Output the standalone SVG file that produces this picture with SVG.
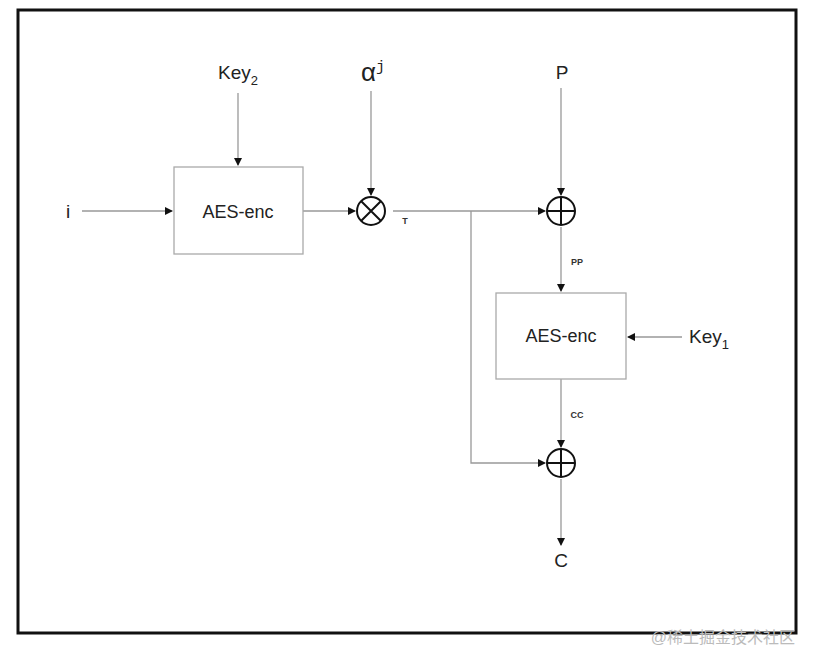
<svg xmlns="http://www.w3.org/2000/svg" width="815" height="666" viewBox="0 0 815 666">
<style>
.t{font-family:"Liberation Sans",Arial,sans-serif;fill:#222}
.s{font-family:"Liberation Sans",Arial,sans-serif;fill:#333;font-weight:bold}
.l{stroke:#999;stroke-width:1.3;fill:none}
.b{fill:#fff;stroke:#aaa;stroke-width:1.3}
.c{fill:#fff;stroke:#111;stroke-width:2}
</style>
<defs><marker id="a" markerWidth="8" markerHeight="8" refX="7" refY="4" orient="auto" markerUnits="userSpaceOnUse"><path d="M0,0L8,4L0,8z" fill="#111"/></marker></defs>
<rect width="815" height="666" fill="#fff"/>
<rect x="18" y="10" width="778" height="623" fill="none" stroke="#111" stroke-width="3"/>
<g id="connectors">
<line class="l" x1="82" y1="211" x2="172" y2="211" marker-end="url(#a)"/>
<line class="l" x1="238" y1="93" x2="238" y2="165" marker-end="url(#a)"/>
<line class="l" x1="303" y1="211" x2="355" y2="211" marker-end="url(#a)"/>
<line class="l" x1="371" y1="91" x2="371" y2="195" marker-end="url(#a)"/>
<line class="l" x1="393" y1="211" x2="545" y2="211" marker-end="url(#a)"/>
<line class="l" x1="561" y1="88" x2="561" y2="195" marker-end="url(#a)"/>
<line class="l" x1="561" y1="227" x2="561" y2="291" marker-end="url(#a)"/>
<line class="l" x1="682" y1="337" x2="628" y2="337" marker-end="url(#a)"/>
<line class="l" x1="561" y1="379" x2="561" y2="447" marker-end="url(#a)"/>
<polyline class="l" points="471,211 471,463 545,463" marker-end="url(#a)"/>
<line class="l" x1="561" y1="479" x2="561" y2="545" marker-end="url(#a)"/>
</g>
<g id="i"><text class="t" x="68" y="218" font-size="19" text-anchor="middle">i</text></g>
<g id="key2"><text class="t" x="238" y="79" font-size="19" text-anchor="middle">Key<tspan font-size="13" dy="6">2</tspan></text></g>
<g id="alpha"><text class="t" x="373" y="81" font-size="26" text-anchor="middle">α<tspan font-size="15" dy="-10" font-family="Liberation Mono,monospace">j</tspan></text></g>
<g id="P"><text class="t" x="562" y="79" font-size="19" text-anchor="middle">P</text></g>
<g id="aes1"><rect class="b" x="174" y="167" width="129" height="87"/><text class="t" x="238" y="218" font-size="18" text-anchor="middle">AES-enc</text></g>
<g id="mul"><circle class="c" cx="371" cy="211" r="14"/><path d="M361,201L381,221M381,201L361,221" stroke="#111" stroke-width="2"/></g>
<g id="T"><text class="s" x="405" y="224" font-size="9" text-anchor="middle">T</text></g>
<g id="xor1"><circle class="c" cx="561" cy="211" r="14"/><path d="M547,211H575M561,197V225" stroke="#111" stroke-width="2"/></g>
<g id="PP"><text class="s" x="577" y="265" font-size="9" text-anchor="middle">PP</text></g>
<g id="aes2"><rect class="b" x="496" y="293" width="130" height="86"/><text class="t" x="561" y="342" font-size="18" text-anchor="middle">AES-enc</text></g>
<g id="key1"><text class="t" x="689" y="343" font-size="19">Key<tspan font-size="13" dy="6">1</tspan></text></g>
<g id="CC"><text class="s" x="577" y="418" font-size="9" text-anchor="middle">CC</text></g>
<g id="xor2"><circle class="c" cx="561" cy="463" r="14"/><path d="M547,463H575M561,449V477" stroke="#111" stroke-width="2"/></g>
<g id="C"><text class="t" x="561" y="567" font-size="19" text-anchor="middle">C</text></g>
<text x="795" y="643" font-size="16" text-anchor="end" fill="#bbb" font-family="Liberation Sans,Noto Sans CJK SC,sans-serif">@稀土掘金技术社区</text>
</svg>
